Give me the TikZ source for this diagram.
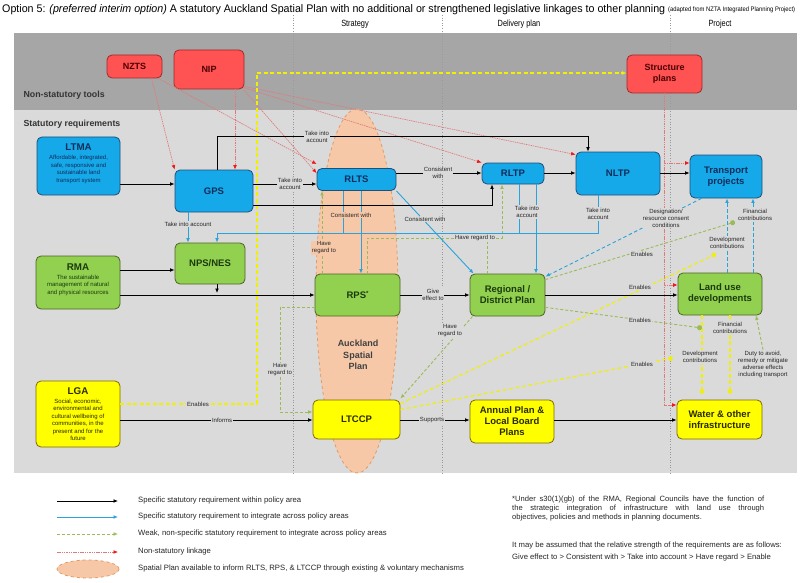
\documentclass[tikz,border=0pt]{standalone}
\usepackage{fontspec}
\usepackage{graphicx}
\setmainfont{Liberation Sans}
\newfontfamily\narrowfont[FakeStretch=0.82]{Liberation Sans}
\usetikzlibrary{arrows.meta,shapes.geometric}
\newcommand{\fsz}[2]{\fontsize{#1}{#2}\selectfont}
\definecolor{bgdark}{HTML}{A6A6A6}
\definecolor{bglight}{HTML}{DADADA}
\definecolor{redfill}{HTML}{FF5252}
\definecolor{redborder}{HTML}{9C2B2B}
\definecolor{redtext}{HTML}{4A0000}
\definecolor{bluefill}{HTML}{16A9E9}
\definecolor{blueborder}{HTML}{1F4E79}
\definecolor{bluetext}{HTML}{0F2D5A}
\definecolor{greenfill}{HTML}{92D050}
\definecolor{greenborder}{HTML}{4F6228}
\definecolor{greentext}{HTML}{1B3A0C}
\definecolor{yellowfill}{HTML}{FFFF00}
\definecolor{yellowborder}{HTML}{7F6A00}
\definecolor{yellowtext}{HTML}{2B2B00}
\definecolor{bluearrow}{HTML}{29A3DA}
\definecolor{greenline}{HTML}{9BBB59}
\definecolor{yellowline}{HTML}{F0F000}
\definecolor{redline}{HTML}{E07A7A}
\definecolor{redtip}{HTML}{F01818}
\definecolor{peach}{HTML}{F6C8A8}
\definecolor{peachborder}{HTML}{E49A62}
\tikzset{
  nbox/.style={rectangle, rounded corners=5pt, line width=0.8pt, inner sep=1pt, align=center},
  redbox/.style={nbox, fill=redfill, draw=redborder, text=redtext, font=\bfseries\fsz{9}{11}},
  bluebox/.style={nbox, fill=bluefill, draw=blueborder, text=bluetext, font=\bfseries\fsz{9.5}{11}},
  greenbox/.style={nbox, fill=greenfill, draw=greenborder, text=greentext, font=\bfseries\fsz{9.5}{11}},
  yellowbox/.style={nbox, fill=yellowfill, draw=yellowborder, text=yellowtext, font=\bfseries\fsz{9.5}{11}},
  subtxt/.style={align=center, inner sep=0pt, font=\fsz{6}{7.4}},
  lbl/.style={fill=bglight, inner sep=0.8pt, align=center, font=\fsz{6}{7}, text=black!85},
  lblp/.style={lbl, fill=peach},
  tip/.style={-{Latex[length=4.5pt,width=3.8pt]}},
  blk/.style={draw=black, line width=0.8pt, tip},
  blu/.style={draw=bluearrow, line width=0.9pt, tip},
  bluplain/.style={draw=bluearrow, line width=0.9pt},
  bludash/.style={blu, dash pattern=on 3.5pt off 2.5pt},
  grnplain/.style={draw=greenline, line width=0.9pt, dash pattern=on 3pt off 2pt},
  grn/.style={grnplain, tip},
  grndot/.style={grnplain, -{Circle[length=5pt]}},
  yelplain/.style={draw=yellowline, line width=1.1pt, dash pattern=on 4pt off 2.5pt},
  yel/.style={yelplain, tip},
  yeldot/.style={yelplain, -{Circle[length=5pt]}},
  rdot/.style={draw=redline, line width=0.65pt, dash pattern=on 1.5pt off 0.8pt, -{Latex[length=4.5pt,width=3.8pt,color=redtip]}},
  legtxt/.style={anchor=west, inner sep=0pt, font=\fsz{7.7}{9}, text=black!85},
}
\begin{document}
\begin{tikzpicture}[x=1pt,y=-1pt]
\useasboundingbox (0,0) rectangle (800,583);
\fill[white] (0,0) rectangle (800,583);
% bands
\fill[bgdark] (14,33) rectangle (797,110);
\fill[bglight] (14,110) rectangle (797,473);
% title
\node[anchor=west, inner sep=0pt] (title) at (2,10) {\resizebox{663pt}{\height}{\narrowfont\fsz{11}{13}Option 5: \textit{(preferred interim option)} A statutory Auckland Spatial Plan with no additional or strengthened legislative linkages to other planning}};
\node[anchor=west, inner sep=0pt] (adapted) at (668,10) {\resizebox{127pt}{\height}{\narrowfont\fsz{6.5}{8}(adapted from NZTA Integrated Planning Project)}};
\node[font=\narrowfont\fsz{9}{10}] (hstrat) at (355,24) {Strategy};
\node[font=\narrowfont\fsz{9}{10}] (hdeliv) at (519,24) {Delivery plan};
\node[font=\narrowfont\fsz{9}{10}] (hproj) at (720,24) {Project};
% dividers
\foreach \xx in {293,442,670} \draw[black!40, dotted, line width=0.6pt] (\xx,15) -- (\xx,473);
\node[anchor=west, font=\bfseries\fsz{8.8}{10}, text=black!80] (nst) at (20,95) {Non-statutory tools};
\node[anchor=west, font=\bfseries\fsz{8.8}{10}, text=black!80] (str) at (20,124) {Statutory requirements};
% spatial plan ellipse
\draw[fill=peach, draw=peachborder, dashed, line width=0.8pt] (357,291) ellipse [x radius=41, y radius=182];
\node[align=center, font=\bfseries\fsz{9}{11.5}, text=black!75] (asp) at (358,355) {Auckland\\Spatial\\Plan};
% nodes
\node[redbox, minimum width=55pt, minimum height=23pt] (nzts) at (134.5,66.5) {NZTS};
\node[redbox, minimum width=70pt, minimum height=39pt] (nip) at (209,69.5) {NIP};
\node[redbox, minimum width=75pt, minimum height=38pt] (sp) at (664.5,74) {Structure\\plans};
\node[bluebox, minimum width=83pt, minimum height=58pt] (ltma) at (78.5,166) {};
\node[subtxt, text=bluetext] (ltmatxt) at (78.5,163.5) {{\bfseries\fsz{9.8}{7.4}LTMA}\\[2pt]Affordable, integrated,\\safe, responsive and\\sustainable land\\transport system};
\node[bluebox, minimum width=78pt, minimum height=42pt] (gps) at (214,191) {GPS};
\node[bluebox, minimum width=79pt, minimum height=22pt] (rlts) at (356.5,179.5) {RLTS};
\node[bluebox, minimum width=62pt, minimum height=21pt] (rltp) at (513,173.5) {RLTP};
\node[bluebox, minimum width=84pt, minimum height=43pt] (nltp) at (618,173.5) {NLTP};
\node[bluebox, minimum width=72pt, minimum height=43pt] (tp) at (726,176.5) {Transport\\projects};
\node[greenbox, minimum width=70pt, minimum height=41pt] (npsnes) at (210,263.5) {NPS/NES};
\node[greenbox, minimum width=84pt, minimum height=53pt] (rma) at (78,282.5) {};
\node[subtxt, text=greentext] (rmatxt) at (78,279.5) {{\bfseries\fsz{9.8}{7.4}RMA}\\[2pt]The sustainable\\management of natural\\and physical resources};
\node[greenbox, minimum width=85pt, minimum height=42pt] (rps) at (357.5,295) {RPS\raisebox{2.5pt}{\fsz{6}{6}*}};
\node[greenbox, minimum width=75pt, minimum height=42pt] (rdp) at (507.5,295) {Regional /\\District Plan};
\node[greenbox, minimum width=84pt, minimum height=42pt] (lud) at (720,294) {Land use\\developments};
\node[yellowbox, minimum width=84pt, minimum height=66pt] (lga) at (78,414) {};
\node[subtxt, text=yellowtext] (lgatxt) at (78,414) {{\bfseries\fsz{9.8}{7.4}LGA}\\[2pt]Social, economic,\\environmental and\\cultural wellbeing of\\communities, in the\\present and for the\\future};
\node[yellowbox, minimum width=87pt, minimum height=39pt] (ltccp) at (356.5,419.5) {LTCCP};
\node[yellowbox, minimum width=84pt, minimum height=43pt] (ap) at (512,421.5) {Annual Plan \&\\Local Board\\Plans};
\node[yellowbox, minimum width=85pt, minimum height=39pt] (water) at (719.5,419.5) {Water \& other\\infrastructure};
% coordinates for dot ends
\coordinate (gdot1) at (735,222);
\coordinate (gdot2) at (702,328);
\coordinate (ydot1) at (716,254);
\coordinate (ydot2) at (673,358);
\coordinate (ydot3) at (702,394);
\coordinate (ydot4) at (730,394);
% red dotted (non-statutory)
\draw[rdot] ([xshift=17pt]nzts.south) -- (gps.north west);
\draw[rdot] ([xshift=24pt]nzts.south) -- ([yshift=4pt]rlts.north west);
\draw[rdot] ([xshift=26pt]nip.south) -- (gps.north -| 235,0);
\draw[rdot] ([xshift=-2pt,yshift=1pt]nip.south east) -- ([yshift=-5pt]rlts.north west);
\draw[rdot] ([xshift=-1pt,yshift=2pt]nip.south east) -- (rltp.north west);
\draw[rdot] ([yshift=3pt]nip.south east) -- ([yshift=-3pt]nltp.north west);
\draw[rdot] (sp.south) -- (664.5,405) -- (water.west |- 0,405);
\draw[rdot] (664.5,163) -- (tp.west |- 0,163);
\draw[rdot] (664.5,285) -- (lud.west |- 0,285);
% yellow dashed
\draw[yel] (lga.east |- 0,404) -- (257,404) -- (257,73) -- (sp.west |- 0,73);
\draw[yeldot] ([yshift=-4pt]ltccp.north east) -- (ydot1);
\draw[yeldot] ([yshift=-10pt]ltccp.north east) -- (ydot2);
\draw[yeldot] (lud.south -| 702,0) -- (ydot3);
\draw[yeldot] (lud.south -| 730,0) -- (ydot4);
% green dashed
\draw[grn] (rps.north -| 322,0) -- (rlts.south -| 322,0);
\draw[grn] (rps.north -| 367,0) -- (367,238) -- (502,238) -- (rltp.south -| 502,0);
\draw[grnplain] (rdp.north -| 487,0) -- (487,238);
\draw[grn] (rps.west |- 0,307) -- (280,307) -- (280,412) -- (ltccp.west |- 0,412);
\draw[grn] ([xshift=3pt]rdp.south west) -- ([yshift=1pt]ltccp.north east);
\draw[grndot] ([yshift=-6pt]rdp.north east) -- (gdot1);
\draw[grndot] ([yshift=9pt]rdp.south east) -- (gdot2);
% blue solid
\draw[blu] (gps.south -| 188,0) -- (npsnes.north -| 188,0);
\draw[blu] (nltp.south -| 598,0) -- (598,233) -- (217,233) -- (npsnes.north -| 217,0);
\draw[bluplain] (rlts.south -| 343,0) -- (343,233);
\draw[blu] (rlts.south -| 361,0) -- (rps.north -| 361,0);
\draw[blu] (rlts.south east) -- ([xshift=4pt]rdp.north west);
\draw[bluplain] (rltp.south -| 519,0) -- (519,233);
\draw[blu] (rltp.south -| 536,0) -- (rdp.north -| 536,0);
% blue dashed
\draw[bludash] ([xshift=12pt]tp.south west) -- ([yshift=-3pt]rdp.north east);
\draw[bludash] (lud.north -| 727,0) -- (tp.south -| 727,0);
\draw[bludash] (lud.north -| 753,0) -- (tp.south -| 753,0);
% black
\draw[blk] (ltma.east |- 0,184) -- (gps.west |- 0,184);
\draw[blk] (gps.east |- 0,184) -- (rlts.west |- 0,184);
\draw[blk] (gps.north -| 217,0) -- (217,136) -- (588,136) -- (nltp.north -| 588,0);
\draw[blk] (gps.east |- 0,205) -- (492,205) -- (rltp.south -| 492,0);
\draw[blk] (rlts.east |- 0,173) -- (rltp.west |- 0,173);
\draw[blk] (rltp.east |- 0,173) -- (nltp.west |- 0,173);
\draw[blk] (nltp.east |- 0,173) -- (tp.west |- 0,173);
\draw[blk] (rma.east |- 0,270) -- (npsnes.west |- 0,270);
\draw[blk] (rma.east |- 0,295) -- (rps.west |- 0,295);
\draw[blk] (npsnes.south -| 217,0) -- (217,293);
\draw[blk] (rps.east |- 0,295) -- (rdp.west |- 0,295);
\draw[blk] (rdp.east |- 0,295) -- (lud.west |- 0,295);
\draw[blk] (lga.east |- 0,420) -- (ltccp.west |- 0,420);
\draw[blk] (ltccp.east |- 0,420) -- (ap.west |- 0,420);
\draw[blk] (ap.east |- 0,420) -- (water.west |- 0,420);
% duty label and its link
\node[lbl] (duty) at (763,364) {Duty to avoid,\\remedy or mitigate\\adverse effects\\including transport};
\draw[grn] (duty.north) -- (lud.south -| 756,0);
% labels
\node[lbl] (l1) at (290,184) {Take into\\account};
\node[lbl] (l2) at (317,137) {Take into\\account};
\node[lbl] (l3) at (438,173) {Consistent\\with};
\node[lbl] (l4) at (188,224) {Take into account};
\node[lbl] (l5) at (598,214) {Take into\\account};
\node[lblp] (l6) at (351,215) {Consistent with};
\node[lbl] (l7) at (425,219) {Consistent with};
\node[lbl] (l8) at (527,212) {Take into\\account};
\node[lbl] (l9) at (666,218) {Designation/\\resource consent\\conditions};
\node[lbl] (l10) at (727,243) {Development\\contributions};
\node[lbl] (l11) at (755,215) {Financial\\contributions};
\node[lblp] (l12) at (324,248) {Have\\regard to};
\node[lbl] (l13) at (475,238) {Have regard to};
\node[lbl] (l14) at (433,295) {Give\\effect to};
\node[lbl] (l15) at (280,370) {Have\\regard to};
\node[lbl] (l16) at (450,331) {Have\\regard to};
\node[lbl] (l17) at (642,254) {Enables};
\node[lbl] (l18) at (640,287) {Enables};
\node[lbl] (l19) at (640,320) {Enables};
\node[lbl] (l20) at (642,364) {Enables};
\node[lbl] (l21) at (730,328) {Financial\\contributions};
\node[lbl] (l22) at (700,357) {Development\\contributions};
\node[lbl] (l23) at (198,404) {Enables};
\node[lbl] (l24) at (222,420) {Informs};
\node[lbl] (l25) at (432,420) {Supports};
% legend
\coordinate (lg1a) at (57,501); \coordinate (lg1b) at (118,501);
\coordinate (lg2a) at (57,517); \coordinate (lg2b) at (118,517);
\coordinate (lg3a) at (57,534); \coordinate (lg3b) at (118,534);
\coordinate (lg4a) at (57,552); \coordinate (lg4b) at (118,552);
\draw[blk] (lg1a) -- (lg1b);
\draw[blu] (lg2a) -- (lg2b);
\draw[grn] (lg3a) -- (lg3b);
\draw[rdot] (lg4a) -- (lg4b);
\draw[fill=peach, draw=peachborder, dashed, line width=0.8pt] (88,569) ellipse [x radius=31, y radius=9];
\node[legtxt] (t1) at (138,501) {Specific statutory requirement within policy area};
\node[legtxt] (t2) at (138,517) {Specific statutory requirement to integrate across policy areas};
\node[legtxt] (t3) at (138,534) {Weak, non-specific statutory requirement to integrate across policy areas};
\node[legtxt] (t4) at (138,552) {Non-statutory linkage};
\node[legtxt] (t5) at (138,569) {Spatial Plan available to inform RLTS, RPS, \& LTCCP through existing \& voluntary mechanisms};
\node[anchor=north west, inner sep=0pt, text width=252pt, align=justify, font=\fsz{7.6}{8.8}, text=black!85] (note) at (512,496) {*Under s30(1)(gb) of the RMA, Regional Councils have the function of\linebreak the strategic integration of infrastructure with land use through\linebreak objectives, policies and methods in planning documents.};
\node[legtxt] (n2) at (512,546) {It may be assumed that the relative strength of the requirements are as follows:};
\node[legtxt] (n3) at (512,558) {Give effect to > Consistent with > Take into account > Have regard > Enable};
\end{tikzpicture}
\end{document}
